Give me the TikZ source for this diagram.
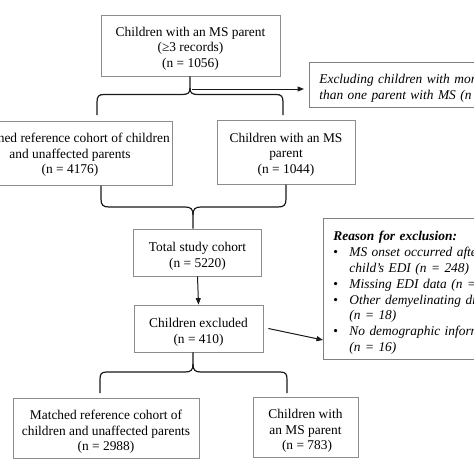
\documentclass[tikz,border=0pt]{standalone}
\usepackage{fontspec}
\setmainfont{Liberation Serif}
\usetikzlibrary{arrows.meta}
\newcommand{\boxstrut}{\rule{0pt}{17pt}}
\begin{document}
\begin{tikzpicture}[x=1pt,y=-1pt,
  box/.style={draw=black!45, line width=0.8pt, align=center, inner sep=0pt,
    font=\fontsize{13.4}{15.5}\selectfont},
  sidebox/.style={draw=black!50, line width=0.8pt, align=left, anchor=west,
    inner xsep=10pt, inner ysep=0pt, text width=190pt,
    font=\fontsize{13.4}{15.5}\selectfont\itshape},
  brace/.style={draw=black!90, line width=1.2pt},
  arr/.style={draw=black!90, line width=1pt, -{Triangle[length=6.5pt,width=5pt]}}]
\useasboundingbox (0,0) rectangle (474,474);
\clip (0,0) rectangle (474,474);

% boxes
\node[box, minimum width=179pt, minimum height=61pt] (top) at (190.5,45.5)
  {\rule{0pt}{15pt}Children with an MS parent\\(≥3 records)\\(n = 1056)};
\node[sidebox, minimum height=45pt] (excl) at (309,84.5)
  {\boxstrut Excluding children with more\\than one parent with MS (n = 12)};
\node[box, minimum width=204pt, minimum height=64pt] (ref1) at (70,153)
  {\rule{0pt}{13pt}Matched reference cohort of children\\and unaffected parents\\(n = 4176)};
\node[box, minimum width=138pt, minimum height=64pt] (ms1) at (286,152)
  {\rule{0pt}{14pt}Children with an MS\\parent\\(n = 1044)};
\node[box, minimum width=128pt, minimum height=47pt] (total) at (197.5,252.5)
  {\boxstrut Total study cohort\\(n = 5220)};
\node[box, minimum width=129pt, minimum height=47pt] (excluded) at (198.5,328.5)
  {\boxstrut Children excluded\\(n = 410)};
\node[sidebox, minimum height=141pt, font=\fontsize{13.4}{15.5}\selectfont] (reason) at (323,288.5)
  {\renewcommand{\arraystretch}{1.023}%
   \begin{tabular}{@{}p{10pt}@{\hspace{6pt}}l@{}}
   \multicolumn{2}{@{}l}{\rule{0pt}{20pt}\textbf{\textit{Reason for exclusion:}}}\\
   \textbullet & \textit{MS onset occurred after the}\\
               & \textit{child’s EDI (n = 248)}\\
   \textbullet & \textit{Missing EDI data (n = 128)}\\
   \textbullet & \textit{Other demyelinating disease}\\
               & \textit{(n = 18)}\\
   \textbullet & \textit{No demographic information}\\
               & \textit{(n = 16)}
   \end{tabular}};
\node[box, minimum width=186pt, minimum height=60pt] (ref2) at (106,428)
  {\boxstrut Matched reference cohort of\\children and unaffected parents\\(n = 2988)};
\node[box, minimum width=105pt, minimum height=60pt] (ms2) at (305.5,427)
  {\boxstrut Children with\\an MS parent\\\hspace*{3pt}(n = 783)};

% brace 1 (split)
\coordinate (t1) at (190,88);
\draw[brace] ([xshift=-0.5pt]top.south) -- (t1)
  .. controls (190,93) and (188,94.5) .. (182,94.5) -- (104,94.5)
  .. controls (99,94.5) and (97,96) .. (97,102) -- (97,115);
\draw[brace] (t1)
  .. controls (190,93) and (192,94.5) .. (198,94.5) -- (276,94.5)
  .. controls (281,94.5) and (283,96) .. (283,102) -- (283,115);
\coordinate (a1) at (192,89);
\draw[arr, shorten >=5pt] (a1) -- (a1 -| excl.west);

% brace 2 (merge)
\coordinate (t2) at (193,215);
\draw[brace] (101,185.5) -- (101,199)
  .. controls (101,205) and (103,207) .. (109,207) -- (185,207)
  .. controls (191,207) and (193,209) .. (t2) -- ([xshift=-4.5pt]total.north);
\draw[brace] (286,184.5) -- (286,199)
  .. controls (286,205) and (284,207) .. (278,207) -- (201,207)
  .. controls (195,207) and (193,209) .. (t2);

% arrows
\draw[arr] (total.south) -- (excluded.north);
\draw[arr] ([xshift=5pt]excluded.east) -- ([yshift=-51.5pt]reason.west);

% brace 3 (split)
\coordinate (t3) at (193,364);
\draw[brace] ([xshift=-5.5pt]excluded.south) -- (t3)
  .. controls (193,370) and (191,372) .. (185,372) -- (107,372)
  .. controls (101,372) and (100,374) .. (100,380) -- (100,393);
\draw[brace] (t3)
  .. controls (193,370) and (195,372) .. (201,372) -- (280,372)
  .. controls (286,372) and (287,374) .. (287,380) -- (287,393);
\end{tikzpicture}
\end{document}
